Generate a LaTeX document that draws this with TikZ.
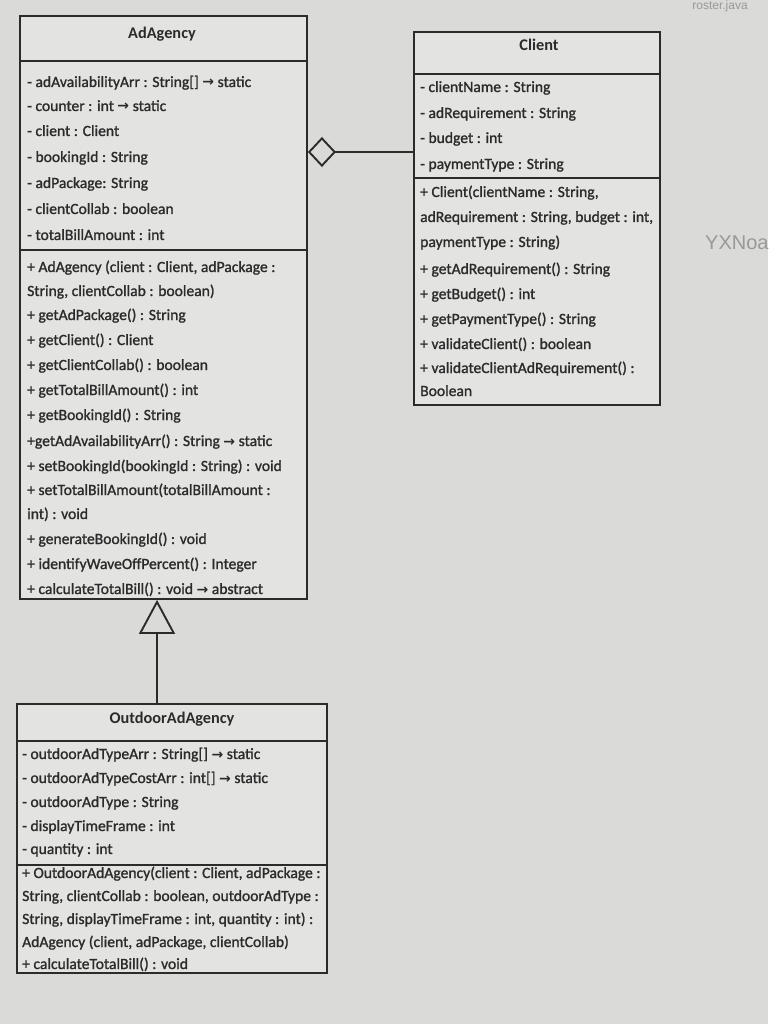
\documentclass[tikz,border=0pt]{standalone}
\usepackage{fontspec}
\setmainfont{Carlito}
\newfontfamily\inkfont[FakeBold=1.2]{Carlito}
\newfontfamily\arrfont{DejaVu Sans}
\newfontfamily\photofont{Liberation Sans}
\usetikzlibrary{arrows.meta}
\definecolor{bgc}{HTML}{DADAD8}
\definecolor{boxc}{HTML}{E3E3E1}
\definecolor{inkc}{HTML}{2B2B2B}
\newcommand{\arr}{{\arrfont\bfseries\fontsize{14}{14}\selectfont →}}
\tikzset{
  umlbox/.style={draw=inkc, line width=1.9pt, fill=boxc},
  divider/.style={draw=inkc, line width=1.9pt},
  ln/.style={anchor=base west, inner sep=0pt, text=inkc, font=\inkfont\fontsize{15.6}{18}\selectfont},
  ttl/.style={anchor=base, inner sep=0pt, text=inkc, font=\bfseries\fontsize{16.3}{18}\selectfont},
  aggr/.style={draw=inkc, line width=1.9pt, {Diamond[open,length=28pt,width=30pt,line width=1.9pt]}-},
  gen/.style={draw=inkc, line width=1.9pt, -{Triangle[open,length=34pt,width=36pt,line width=1.9pt]}},
  photo/.style={inner sep=0pt, text=gray!80, font=\photofont\fontsize{20}{20}\selectfont}
}
\begin{document}
\begin{tikzpicture}[x=1pt,y=-1pt]
\fill[bgc] (0,0) rectangle (768,1024);
\useasboundingbox (0,0) rectangle (768,1024);
% photo artifacts
\node[photo, anchor=base west] (yx) at (705,249) {YXNoa};
\node[photo, anchor=base, font=\photofont\fontsize{12}{12}\selectfont] (rj) at (720,10) {roster.java};

% ---------------- AdAgency ----------------
\node[umlbox, minimum width=287pt, minimum height=583pt, anchor=north west, inner sep=0pt] (ad) at (19,15) {};
\draw[divider] (ad.west |- 0,61) -- (ad.east |- 0,61);
\draw[divider] (ad.west |- 0,250) -- (ad.east |- 0,250);
\node[ttl] (adt) at (162,39) {AdAgency};
\node[ln] (a1) at (27,87) {- adAvailabilityArr : String[] \arr\ static};
\node[ln] (a2) at (27,111) {- counter : int \arr\ static};
\node[ln] (a3) at (27,136) {- client : Client};
\node[ln] (a4) at (27,162) {- bookingId : String};
\node[ln] (a5) at (27,188) {- adPackage: String};
\node[ln] (a6) at (27,214) {- clientCollab : boolean};
\node[ln] (a7) at (27,240) {- totalBillAmount : int};
\node[ln] (m1) at (27,272) {+ AdAgency (client : Client, adPackage :};
\node[ln] (m1b) at (27,296) {String, clientCollab : boolean)};
\node[ln] (m2) at (27,320) {+ getAdPackage() : String};
\node[ln] (m3) at (27,345) {+ getClient() : Client};
\node[ln] (m4) at (27,370) {+ getClientCollab() : boolean};
\node[ln] (m5) at (27,395) {+ getTotalBillAmount() : int};
\node[ln] (m6) at (27,420) {+ getBookingId() : String};
\node[ln] (m7) at (27,446) {+getAdAvailabilityArr() : String \arr\ static};
\node[ln] (m8) at (27,471) {+ setBookingId(bookingId : String) : void};
\node[ln] (m9) at (27,495) {+ setTotalBillAmount(totalBillAmount :};
\node[ln] (m9b) at (27,519) {int) : void};
\node[ln] (m10) at (27,544) {+ generateBookingId() : void};
\node[ln] (m11) at (27,569) {+ identifyWaveOffPercent() : Integer};
\node[ln] (m12) at (27,594) {+ calculateTotalBill() : void \arr\ abstract};

% ---------------- Client ----------------
\node[umlbox, minimum width=246pt, minimum height=373pt, anchor=north west, inner sep=0pt] (client) at (413,31) {};
\draw[divider] (client.west |- 0,74) -- (client.east |- 0,74);
\draw[divider] (client.west |- 0,178) -- (client.east |- 0,178);
\node[ttl] (clt) at (539,51) {Client};
\node[ln] (c1) at (420,92) {- clientName : String};
\node[ln] (c2) at (420,118) {- adRequirement : String};
\node[ln] (c3) at (420,143) {- budget : int};
\node[ln] (c4) at (420,169) {- paymentType : String};
\node[ln] (cm1) at (420,197) {+ Client(clientName : String,};
\node[ln] (cm1b) at (420,222) {adRequirement : String, budget : int,};
\node[ln] (cm1c) at (420,247) {paymentType : String)};
\node[ln] (cm2) at (420,274) {+ getAdRequirement() : String};
\node[ln] (cm3) at (420,299) {+ getBudget() : int};
\node[ln] (cm4) at (420,324) {+ getPaymentType() : String};
\node[ln] (cm5) at (420,349) {+ validateClient() : boolean};
\node[ln] (cm6) at (420,373) {+ validateClientAdRequirement() :};
\node[ln] (cm6b) at (420,396) {Boolean};

% ---------------- OutdoorAdAgency ----------------
\node[umlbox, minimum width=310pt, minimum height=269pt, anchor=north west, inner sep=0pt] (out) at (16,703) {};
\draw[divider] (out.west |- 0,741) -- (out.east |- 0,741);
\draw[divider] (out.west |- 0,865) -- (out.east |- 0,865);
\node[ttl] (outt) at (172,723) {OutdoorAdAgency};
\node[ln] (o1) at (22,759) {- outdoorAdTypeArr : String[] \arr\ static};
\node[ln] (o2) at (22,783) {- outdoorAdTypeCostArr : int[] \arr\ static};
\node[ln] (o3) at (22,807) {- outdoorAdType : String};
\node[ln] (o4) at (22,831) {- displayTimeFrame : int};
\node[ln] (o5) at (22,854) {- quantity : int};
\node[ln] (om1) at (22,878) {+ OutdoorAdAgency(client : Client, adPackage :};
\node[ln] (om1b) at (22,901) {String, clientCollab : boolean, outdoorAdType :};
\node[ln] (om1c) at (22,924) {String, displayTimeFrame : int, quantity : int) :};
\node[ln] (om1d) at (22,947) {AdAgency (client, adPackage, clientCollab)};
\node[ln] (om2) at (22,969) {+ calculateTotalBill() : void};

% ---------------- connectors ----------------
\coordinate (agg) at (0,152);
\draw[aggr] (ad.east |- agg) -- (client.west |- agg);
\coordinate (genx) at (157,0);
\draw[gen] (out.north -| genx) -- (ad.south -| genx);
\end{tikzpicture}
\end{document}
